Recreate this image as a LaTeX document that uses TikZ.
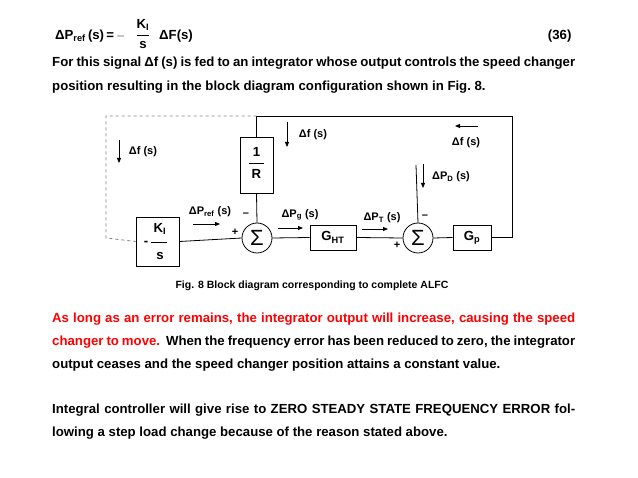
\documentclass[tikz,border=0pt]{standalone}
\usepackage{fontspec}
\setmainfont{Liberation Sans}
\usetikzlibrary{arrows.meta}
\newcommand{\bigtxt}{\fontsize{13.2}{23}\selectfont\bfseries}
\begin{document}
\begin{tikzpicture}[x=1pt,y=-1pt,font=\bigtxt,
  blk/.style={draw,thick,minimum width=0pt,inner sep=0pt},
  sum/.style={draw,thick,circle,minimum size=30pt,inner sep=0pt,font=\fontsize{22}{22}\selectfont},
  ln/.style={thick},
  sig/.style={thick,-{Triangle[length=5pt,width=4pt]}},
  lbl/.style={font=\fontsize{11}{12}\selectfont\bfseries,inner sep=1pt}]
\useasboundingbox (0,0) rectangle (638,478);
% top text
\node[anchor=west,inner sep=0pt] (eq) at (55,36) {ΔP\textsubscript{ref}\,(s)\,=\,$-$};
\node[inner sep=0pt] (eqk) at (143,25) {K\textsubscript{I}};
\node[inner sep=0pt] (eqs) at (143,45) {s};
\draw (137,35) -- (149,35);
\node[anchor=west,inner sep=0pt] (eqf) at (159,36) {ΔF(s)};
\node[anchor=east] (eqn) at (575,36) {(36)};
\node[anchor=north west,text width=523pt,align=justify,inner sep=0pt] (p1) at (52,57)
 {\baselineskip=24pt For this signal Δf (s) is fed to an integrator whose output controls the speed changer position resulting in the block diagram configuration shown in Fig.~8.\par};
% blocks
\node[blk,minimum width=43pt,minimum height=49pt] (ki) at (157.5,241.5) {};
\node (kit) at (160,229) {K\textsubscript{I}};
\node (kis) at (160,256) {s};
\node (kim) at (146,243) {-};
\draw (151,242) -- (167,242);
\node[blk,minimum width=33pt,minimum height=56pt] (r) at (256.5,165) {};
\node (r1) at (256.5,152) {1};
\node (r2) at (256.5,174) {R};
\draw (249,163) -- (264,163);
\node[sum] (s1) at (257,238) {Σ};
\node[blk,minimum width=46pt,minimum height=25pt] (ght) at (333,237.5) {G\textsubscript{HT}};
\node[sum] (s2) at (418,238) {Σ};
\node[blk,minimum width=38pt,minimum height=25pt] (gp) at (472,237.5) {G\textsubscript{p}};
\coordinate (tr) at (512,116);
\coordinate (tl) at (106,116);
\coordinate (tm) at (256.5,116);
\coordinate (dl) at (106,238);
\coordinate (pd) at (416,165);
% connectors
\draw[ln] (ki.east) -- (s1.west);
\draw[ln] (s1.east) -- (ght.west);
\draw[ln] (ght.east) -- (s2.west);
\draw[ln] (s2.east) -- (gp.west);
\draw[ln] (gp.east) -| (tr) -- (tm);
\draw[ln] (tm) -- (r.north);
\draw[ln] (r.south) -- (s1.north);
\draw[ln] (pd) -- (s2.north);
\draw[thick,dashed,gray] (tm) -- (tl) -- (dl) -- (ki.west);
% labels
\coordinate (a1) at (119,140); \coordinate (a1e) at (119,163);
\draw[sig] (a1) -- (a1e); \node[lbl] (l1) at (143,152) {Δf (s)};
\coordinate (a2) at (287,122); \coordinate (a2e) at (287,147);
\draw[sig] (a2) -- (a2e); \node[lbl] (l2) at (313,135) {Δf (s)};
\coordinate (a3) at (478,126); \coordinate (a3e) at (455,126);
\draw[sig] (a3) -- (a3e); \node[lbl] (l3) at (466,143) {Δf (s)};
\coordinate (a4) at (423,164); \coordinate (a4e) at (423,188);
\draw[sig] (a4) -- (a4e); \node[lbl] (l4) at (451,177) {ΔP\textsubscript{D} (s)};
\coordinate (a5) at (193,224); \coordinate (a5e) at (220,224);
\draw[sig] (a5) -- (a5e); \node[lbl] (l5) at (210,212) {ΔP\textsubscript{ref} (s)};
\coordinate (a6) at (278,228); \coordinate (a6e) at (303,228);
\draw[sig] (a6) -- (a6e); \node[lbl] (l6) at (300,215) {ΔP\textsubscript{g} (s)};
\coordinate (a7) at (362,229); \coordinate (a7e) at (388,229);
\draw[sig] (a7) -- (a7e); \node[lbl] (l7) at (382,218) {ΔP\textsubscript{T} (s)};
\node[lbl] (m1) at (246,215) {--};
\node[lbl] (p1s) at (235,232) {+};
\node[lbl] (m2) at (425,217) {--};
\node[lbl] (p2s) at (397,245) {+};
\node[font=\fontsize{10.5}{12}\selectfont\bfseries] (cap) at (312,286) {Fig. 8 Block diagram corresponding to complete ALFC};
\node[anchor=north west,text width=523pt,align=justify,inner sep=0pt] (p2) at (52,313)
 {\textcolor{red}{As long as an error remains, the integrator output will increase, causing the speed changer to move.}\ \ When the frequency error has been reduced to zero, the integrator output ceases and the speed changer position attains a constant value.\par};
\node[anchor=north west,text width=523pt,align=justify,inner sep=0pt] (p3) at (52,404)
 {Integral controller will give rise to ZERO STEADY STATE FREQUENCY ERROR following a step load change because of the reason stated above.\par};
\end{tikzpicture}
\end{document}
